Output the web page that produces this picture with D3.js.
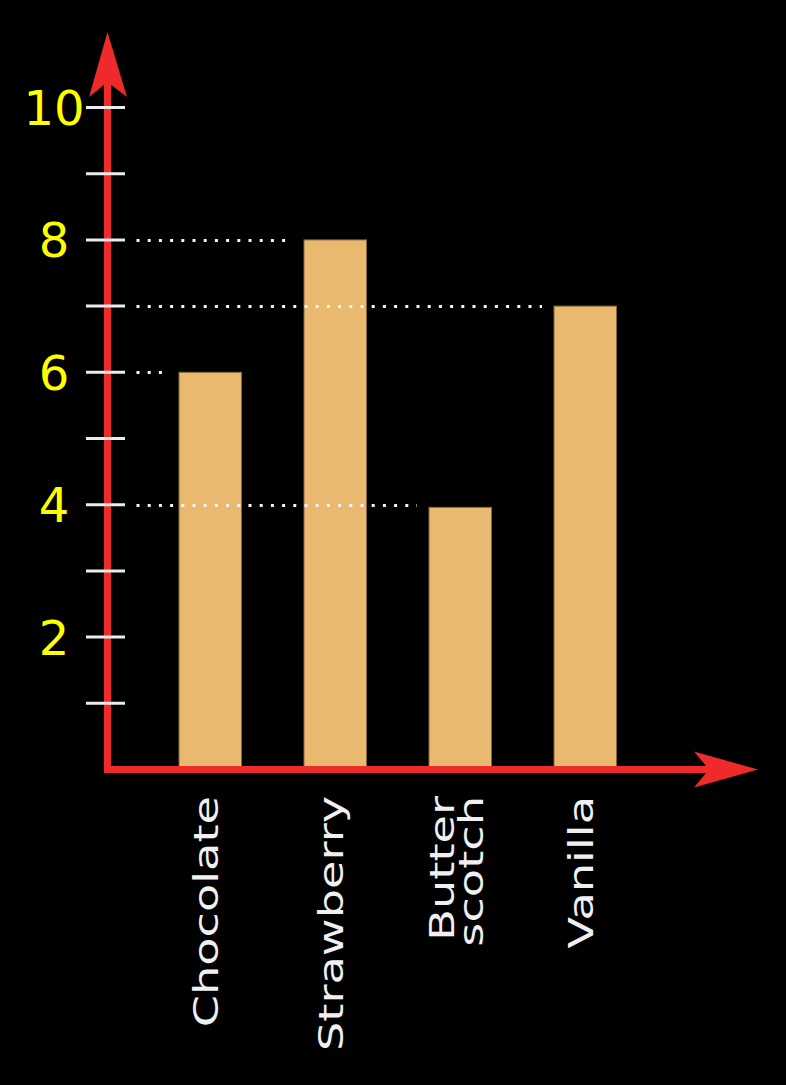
<!DOCTYPE html>
<html lang="en">

<head>
  <meta charset="utf-8">
  <script src="https://d3js.org/d3.v7.min.js"></script>
  <style>
    html, body {
      margin: 0;
      padding: 0;
      background: #000;
    }

    svg {
      display: block;
    }
  </style>
</head>

<body>
  <svg width="786" height="1085"></svg>
  <script>
    // flavours and their counts
    const flavours = ["Chocolate", "Strawberry", "Butterscotch", "Vanilla"];
    const flavourLines = [["Chocolate"], ["Strawberry"], ["Butter", "scotch"], ["Vanilla"]];
    const counts = [6, 8, 3.96, 7];
    const tickValues = [1, 2, 3, 4, 5, 6, 7, 8, 9, 10];
    const tickLabels = ["2", "4", "6", "8", "10"];
    // dotted guides: level and the bar they lead to
    const guideLevels = [8, 7, 6, 4];
    const guideTargets = ["Strawberry", "Vanilla", "Chocolate", "Butterscotch"];

    const svg = d3.select("svg");
    const red = "#ee2a2a";

    const x = d3.scaleBand()
      .domain(flavours)
      .range([116.5, 679])
      .paddingInner(0.5)
      .paddingOuter(0.5);

    const y = d3.scaleLinear()
      .domain([0, 10])
      .range([769.5, 107.5]);

    const x0 = 107.5;

    // bars
    svg.append("g")
      .selectAll("rect")
      .data(flavours)
      .join("rect")
      .attr("x", d => x(d))
      .attr("y", (d, i) => y(counts[i]))
      .attr("width", x.bandwidth())
      .attr("height", (d, i) => y(0) - y(counts[i]))
      .attr("fill", "#e8b96e")
      .attr("stroke", "#86673a")
      .attr("stroke-width", 1);

    // dotted guides
    svg.append("g")
      .selectAll("line")
      .data(guideLevels)
      .join("line")
      .attr("x1", x0 + 29)
      .attr("x2", (d, i) => x(guideTargets[i]) - 12)
      .attr("y1", d => Math.round(y(d)) + 0.5)
      .attr("y2", d => Math.round(y(d)) + 0.5)
      .attr("stroke", "#f4f4f4")
      .attr("stroke-width", 3)
      .attr("stroke-dasharray", "3 8.2");

    // y axis line + arrow
    svg.append("line")
      .attr("x1", x0).attr("x2", x0)
      .attr("y1", y(0) + 3.5).attr("y2", 82)
      .attr("stroke", red)
      .attr("stroke-width", 7);

    svg.append("path")
      .attr("d", `M${x0},32 L${x0 + 19.5},97 L${x0},82 L${x0 - 18.5},97 Z`)
      .attr("fill", red);

    // x axis line + arrow
    svg.append("line")
      .attr("x1", x0 - 3.5).attr("x2", 712)
      .attr("y1", y(0)).attr("y2", y(0))
      .attr("stroke", red)
      .attr("stroke-width", 7);

    svg.append("path")
      .attr("d", `M758,${y(0)} L694,${y(0) - 18} L709,${y(0)} L694,${y(0) + 18} Z`)
      .attr("fill", red);

    // ticks
    svg.append("g")
      .selectAll("line")
      .data(tickValues)
      .join("line")
      .attr("x1", x0 - 21.5)
      .attr("x2", x0 + 17.5)
      .attr("y1", d => y(d))
      .attr("y2", d => y(d))
      .attr("stroke", "#ececec")
      .attr("stroke-width", 3);

    // tick labels
    svg.append("g")
      .selectAll("text")
      .data(tickLabels)
      .join("text")
      .attr("x", 54)
      .attr("y", d => y(+d))
      .attr("dy", "0.365em")
      .attr("text-anchor", "middle")
      .attr("font-family", "DejaVu Sans")
      .attr("font-size", 48)
      .attr("fill", "#ffff00")
      .text(d => d);

    // category labels, rotated and stretched along the baseline
    const labelSize = 34;
    const lineGap = 29;
    const labels = svg.append("g")
      .selectAll("g")
      .data(flavours)
      .join("g")
      .attr("transform", (d, i) => {
        const n = flavourLines[i].length;
        const cx = x(d) + x.bandwidth() / 2;
        const base = cx + 8 - (n - 1) * lineGap / 2;
        return `translate(${base},796) rotate(-90) scale(1.36,1)`;
      });

    labels.selectAll("text")
      .data((d, i) => flavourLines[i])
      .join("text")
      .attr("x", 0)
      .attr("y", (d, j) => j * lineGap)
      .attr("text-anchor", "end")
      .attr("font-family", "DejaVu Sans")
      .attr("font-size", labelSize)
      .attr("fill", "#f0f0f0")
      .text(d => d);
  </script>
</body>

</html>
